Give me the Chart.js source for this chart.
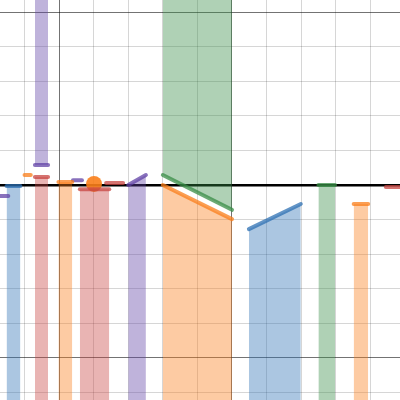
<!DOCTYPE html>
<html>
<head>
<script src="https://cdn.jsdelivr.net/npm/chart.js@4"></script>
<style>body{margin:0}#wrap{width:400px;height:400px}</style>
</head>
<body>
<div id="wrap"><canvas id="c"></canvas></div>
<script>
const RED = "199,68,64", BLUE = "45,112,179", GREEN = "56,140,70", PURPLE = "96,66,166", ORANGE = "250,126,25";

// each shape: [colour, x0, y0, x1, y1, fill]
const shapeColors = [PURPLE, BLUE, ORANGE, RED, PURPLE, ORANGE, PURPLE, RED, RED, PURPLE, GREEN, ORANGE, BLUE, GREEN, ORANGE, RED];
const shapeX0 = [-1.71, -1.52, -1.0, -0.7, -0.7, -0.02, 0.4, 0.6, 1.36, 2.0, 3.0, 3.0, 5.49, 7.5, 8.52, 9.45];
const shapeX1 = [-1.47, -1.12, -0.82, -0.32, -0.32, 0.38, 0.66, 1.45, 1.85, 2.51, 5.0, 5.0, 6.99, 7.98, 8.94, 9.9];
const shapeY0 = [-0.32, -0.03, 0.29, 0.23, 0.58, 0.09, 0.14, -0.12, 0.06, 0.0, 0.29, 0.0, -1.28, 0.0, -0.55, -0.06];
const shapeY1 = [-0.32, -0.03, 0.29, 0.23, 0.58, 0.09, 0.14, -0.12, 0.06, 0.29, -0.72, -0.99, -0.55, 0.0, -0.55, -0.06];
const shapeFill = [false, 'start', false, 'start', 'end', 'start', false, 'start', false, 'start', 'end', 'start', 'start', 'start', 'start', false];
const pointX = [1.01], pointY = [0.03];

const datasets = shapeColors.map((col, i) => ({
    type: 'line',
    data: [{x: shapeX0[i], y: shapeY0[i]}, {x: shapeX1[i], y: shapeY1[i]}],
    borderColor: 'rgba(' + col + ',0.75)',
    backgroundColor: 'rgba(' + col + ',0.4)',
    borderWidth: 4,
    borderCapStyle: 'round',
    pointRadius: 0,
    fill: shapeFill[i]
}));
datasets.push({
    type: 'scatter',
    data: pointX.map((x, i) => ({x: x, y: pointY[i]})),
    backgroundColor: 'rgba(' + ORANGE + ',0.9)',
    pointRadius: 8,
    pointBorderWidth: 0
});

function intTicks(scale) {
    scale.ticks = [];
    for (let v = Math.ceil(scale.min); v <= Math.floor(scale.max); v++) scale.ticks.push({value: v});
}
function gridColor(axis) {
    return ctx => {
        const v = ctx.tick.value;
        if (v === 0 && axis === 'y') return '#000';
        return v % 5 === 0 ? 'rgba(0,0,0,0.55)' : 'rgba(0,0,0,0.16)';
    };
}
function gridWidth(axis) {
    return ctx => (ctx.tick.value === 0 && axis === 'y') ? 2.5 : 1;
}

new Chart(document.getElementById('c'), {
    type: 'scatter',
    data: {datasets: datasets},
    options: {
        animation: false,
        responsive: true,
        maintainAspectRatio: false,
        layout: {padding: 0, autoPadding: false},
        plugins: {legend: {display: false}, tooltip: {enabled: false}},
        scales: {
            x: {
                type: 'linear', min: -1.71, max: 9.86,
                afterBuildTicks: intTicks,
                ticks: {display: false, padding: 0},
                border: {display: false},
                grid: {color: gridColor('x'), lineWidth: gridWidth('x'), drawTicks: false, tickLength: 0}
            },
            y: {
                type: 'linear', min: -6.23, max: 5.36,
                afterBuildTicks: intTicks,
                ticks: {display: false, padding: 0},
                border: {display: false},
                grid: {color: gridColor('y'), lineWidth: gridWidth('y'), drawTicks: false, tickLength: 0}
            }
        }
    }
});
</script>
</body>
</html>
